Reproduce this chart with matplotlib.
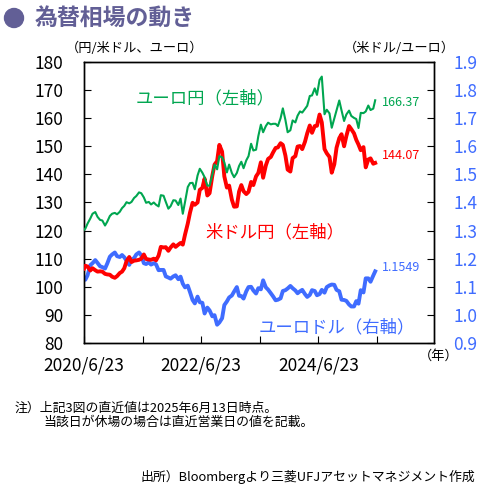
import numpy as np
import pandas as pd
import matplotlib
matplotlib.use('Agg')
import matplotlib.pyplot as plt
from matplotlib.patches import Ellipse

plt.rcParams['font.family'] = ['Noto Sans CJK JP', 'DejaVu Sans']

# 日付: 2020/6/23, 毎月1日と15日, 2025/6/13
dates = ([pd.Timestamp('2020-06-23')]
         + list(pd.date_range('2020-07-01', '2025-06-01', freq='SMS'))
         + [pd.Timestamp('2025-06-13')])

# 米ドル円
usdjpy = [
    106.5, 107.5, 107.2, 105.8, 106.6, 105.9, 105.4, 105.5, 105.4, 104.6, 104.4, 104.3, 103.6,
    103.2, 103.8, 104.9, 105.4, 106.6, 109.1, 110.6, 108.8, 109.3, 109.4, 109.6, 110.0,
    111.5, 109.9, 109.7, 109.6, 110.0, 109.4, 111.1, 114.2, 114.0, 114.1, 112.8, 114.0,
    115.1, 114.2, 115.0, 115.6, 115.0, 118.6, 122.5, 126.4, 129.9, 129.2, 130.0, 134.5,
    135.2, 138.5, 132.5, 133.3, 139.5, 143.5, 144.7, 150.5, 148.1, 139.3, 135.3, 136.0,
    131.0, 128.5, 128.6, 133.9, 136.2, 134.0, 133.0, 133.8, 137.3, 136.2, 139.3, 140.5,
    144.3, 138.8, 143.2, 145.5, 146.2, 147.8, 149.4, 149.6, 151.1, 150.5, 146.7, 141.7,
    141.0, 145.8, 146.5, 149.9, 150.1, 149.0, 151.6, 154.6, 157.4, 154.8, 157.2, 157.3,
    161.3, 158.5, 149.0, 147.5, 146.2, 140.6, 143.6, 149.5, 152.9, 154.3, 150.0, 153.6,
    157.2, 156.1, 154.6, 152.3, 150.6, 148.6, 149.7, 142.5, 145.3, 145.7, 143.8, 144.07,
]

# ユーロ円
eurjpy = [
    120.3, 120.7, 122.5, 124.3, 126.0, 126.6, 124.9, 123.8, 123.6, 121.8, 123.2, 125.2, 126.0,
    126.3, 125.8, 126.7, 128.0, 128.8, 130.1, 129.7, 130.2, 131.6, 132.3, 133.6, 133.3,
    131.8, 129.9, 130.2, 129.3, 130.0, 129.2, 128.6, 132.6, 132.4, 130.2, 127.8, 128.7,
    130.8, 130.7, 129.1, 131.4, 126.0, 130.2, 135.5, 136.9, 137.0, 134.7, 139.6, 142.0,
    140.6, 139.0, 136.0, 136.0, 139.8, 143.5, 141.8, 146.5, 146.1, 144.3, 140.7, 143.5,
    140.5, 139.0, 140.5, 143.0, 144.5, 142.2, 145.0, 146.5, 150.9, 148.5, 148.8, 153.6,
    157.7, 155.0, 157.2, 158.4, 157.8, 158.0, 158.0, 157.2, 160.0, 163.5, 159.4, 155.0,
    155.7, 159.2, 158.5, 160.9, 162.4, 162.0, 163.3, 164.4, 167.9, 168.1, 170.6, 168.3,
    173.6, 174.8, 161.4, 163.0, 161.7, 156.6, 159.9, 162.8, 166.3, 162.8, 159.0, 161.3,
    162.7, 160.8, 160.1, 159.7, 156.5, 161.9, 161.8, 162.4, 164.5, 162.9, 163.4, 166.37,
]

# ユーロドル
eurusd = [
    1.1305, 1.125, 1.141, 1.177, 1.184, 1.195, 1.185, 1.173, 1.170, 1.165, 1.183, 1.207, 1.215,
    1.222, 1.209, 1.206, 1.213, 1.205, 1.193, 1.178, 1.197, 1.202, 1.215, 1.222, 1.212,
    1.184, 1.181, 1.187, 1.179, 1.184, 1.180, 1.159, 1.160, 1.160, 1.137, 1.133, 1.129,
    1.137, 1.141, 1.127, 1.136, 1.111, 1.098, 1.104, 1.081, 1.053, 1.041, 1.065, 1.045,
    1.043, 1.005, 1.026, 1.016, 0.995, 0.999, 0.965, 0.973, 0.988, 1.035, 1.048, 1.062,
    1.069, 1.083, 1.099, 1.068, 1.067, 1.058, 1.084, 1.099, 1.100, 1.087, 1.076, 1.095,
    1.091, 1.123, 1.098, 1.090, 1.077, 1.066, 1.052, 1.054, 1.059, 1.085, 1.088, 1.094,
    1.103, 1.095, 1.087, 1.077, 1.084, 1.089, 1.074, 1.064, 1.071, 1.088, 1.085, 1.070,
    1.074, 1.089, 1.079, 1.099, 1.105, 1.108, 1.107, 1.089, 1.084, 1.054, 1.053, 1.050,
    1.037, 1.030, 1.030, 1.049, 1.040, 1.088, 1.080, 1.130, 1.130, 1.118, 1.140, 1.1549,
]

xtick_dates = ['2020-06-23', '2021-06-23', '2022-06-23', '2023-06-23', '2024-06-23', '2025-06-23']
xtick_labels = ['2020/6/23', '', '2022/6/23', '', '2024/6/23', '']

GREEN = '#00a650'
RED = '#ff0000'
BLUE = '#3f6cff'
TITLE_C = '#625f96'

fig = plt.figure(figsize=(4.83, 4.90), dpi=100)
ax = fig.add_axes([0.174, 0.300, 0.7246, 0.5735])
ax2 = ax.twinx()

ax2.plot(dates, eurusd, color=BLUE, lw=2.8, zorder=2)
ax.plot(dates, usdjpy, color=RED, lw=2.8, zorder=3)
ax.plot(dates, eurjpy, color=GREEN, lw=1.5, zorder=4)
ax.set_zorder(ax2.get_zorder() + 1)
ax.patch.set_visible(False)

ax.set_xlim(pd.Timestamp('2020-06-23'), pd.Timestamp('2026-06-15'))
ax.set_ylim(80, 180)
ax2.set_ylim(0.9, 1.9)

ax.set_yticks(np.arange(80, 181, 10))
ax2.set_yticks(np.arange(0.9, 1.91, 0.1))
ax2.set_yticklabels([f'{v:.1f}' for v in np.arange(0.9, 1.91, 0.1)])
ax.set_xticks([pd.Timestamp(d) for d in xtick_dates])
ax.set_xticklabels(xtick_labels)

ax.tick_params(axis='y', direction='in', length=5, pad=15, labelsize=12.5, colors='black')
ax.tick_params(axis='x', direction='in', length=5, pad=10, labelsize=12.5)
ax2.tick_params(axis='y', direction='in', length=5, pad=14, labelsize=12.5, labelcolor=BLUE)
for a in (ax, ax2):
    for s in a.spines.values():
        s.set_linewidth(1.0)

# タイトル
fig.add_artist(Ellipse((14 / 483, 1 - 18 / 490), 19 / 483, 19 / 490,
                       transform=fig.transFigure, color=TITLE_C))
fig.text(0.072, 0.962, '為替相場の動き', fontsize=16.5, color=TITLE_C, fontweight='bold',
         va='center', ha='left')

fig.text(0.137, 0.902, '（円/米ドル、ユーロ）', fontsize=9.5, va='center', ha='left')
fig.text(0.712, 0.902, '（米ドル/ユーロ）', fontsize=9.5, va='center', ha='left')
fig.text(0.868, 0.272, '（年）', fontsize=9.5, va='center', ha='left')

# 系列ラベル
ax.text(pd.Timestamp('2021-05-10'), 167.0, 'ユーロ円（左軸）', color=GREEN, fontsize=12.5, va='center')
ax.text(pd.Timestamp('2022-07-20'), 119.3, '米ドル円（左軸）', color=RED, fontsize=12.5, va='center')
ax2.text(pd.Timestamp('2023-06-15'), 0.957, 'ユーロドル（右軸）', color=BLUE, fontsize=12.5, va='center')

# 直近値
ax.text(pd.Timestamp('2025-07-25'), 165.6, '166.37', color=GREEN, fontsize=9, va='center')
ax.text(pd.Timestamp('2025-07-25'), 146.9, '144.07', color=RED, fontsize=9, va='center')
ax2.text(pd.Timestamp('2025-07-25'), 1.167, '1.1549', color=BLUE, fontsize=9, va='center')

# 注記
fig.text(0.031, 0.167, '注）上記3図の直近値は2025年6月13日時点。', fontsize=9.3, va='center')
fig.text(0.089, 0.138, '当該日が休場の場合は直近営業日の値を記載。', fontsize=9.3, va='center')
fig.text(0.983, 0.027, '出所）Bloombergより三菱UFJアセットマネジメント作成', fontsize=9.3,
         va='center', ha='right')

fig.savefig('out.png', dpi=100)
